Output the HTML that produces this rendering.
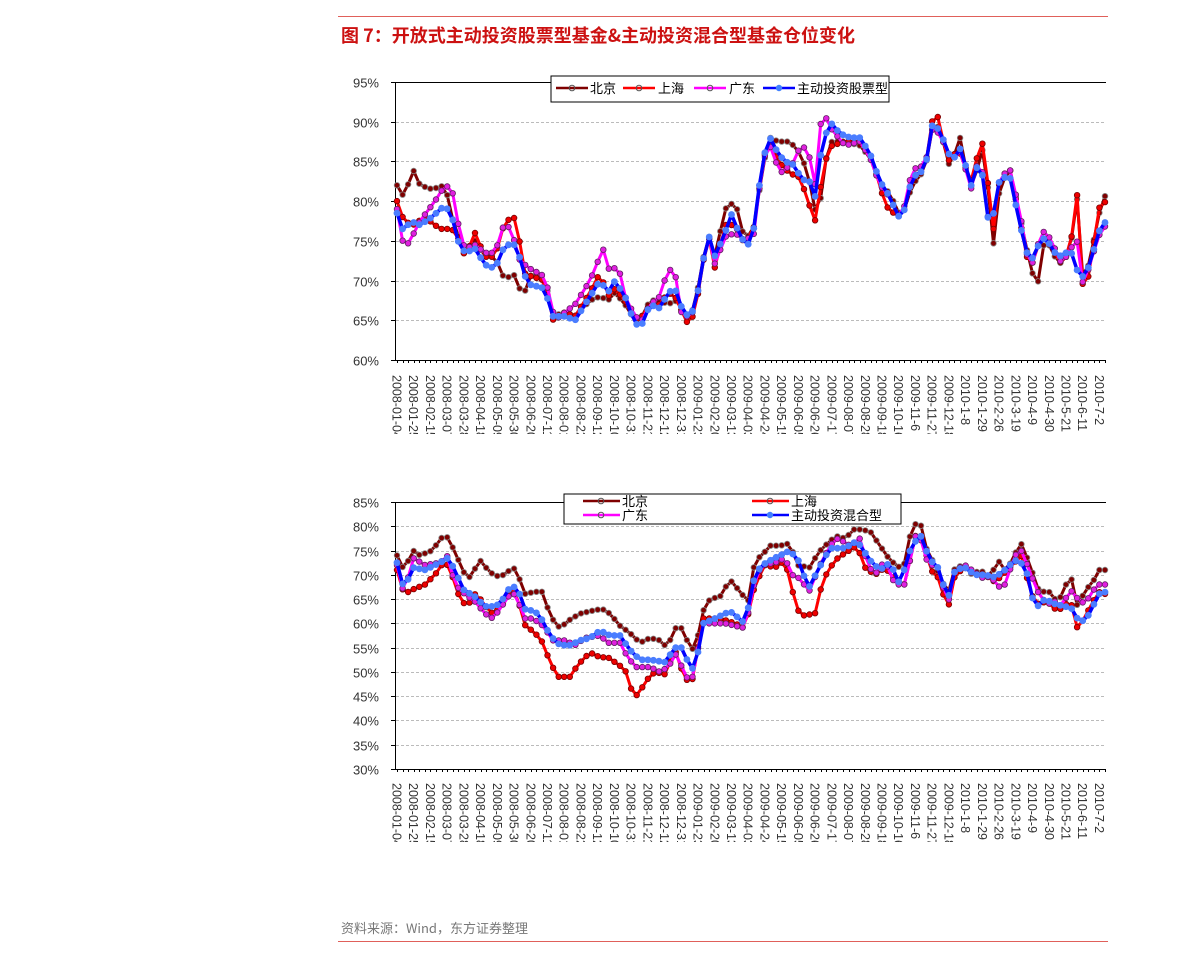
<!DOCTYPE html>
<html><head><meta charset="utf-8">
<style>
body{margin:0;background:#fff;width:1191px;height:956px;overflow:hidden;font-family:"Liberation Sans","Noto Sans CJK SC",sans-serif;}
svg{position:absolute;left:0;top:0}
</style></head><body>
<svg id="s" width="1191" height="956" xmlns="http://www.w3.org/2000/svg" font-family="Liberation Sans, Noto Sans CJK SC, sans-serif">
<line x1="338" y1="16.5" x2="1108" y2="16.5" stroke="#e0605a" stroke-width="1"/>
<text x="341" y="42" font-size="18" font-weight="bold" fill="#cc1111" font-family="Noto Sans CJK SC, sans-serif">图 7：开放式主动投资股票型基金&amp;主动投资混合型基金仓位变化</text>
<text x="341" y="933" font-size="13" fill="#777" font-family="Noto Sans CJK SC, sans-serif">资料来源：Wind，东方证券整理</text>
<line x1="338" y1="941.5" x2="1108" y2="941.5" stroke="#e0605a" stroke-width="1"/>
<g id="c1"></g><g id="c2"></g>
<g font-size="13" fill="#000" font-family="Noto Sans CJK SC, sans-serif">
<rect x="551" y="76" width="338" height="26" fill="#fff" stroke="#000" stroke-width="1"/>
<line x1="556" y1="88" x2="588" y2="88" stroke="#7f0000" stroke-width="2.5"/><circle cx="572" cy="88" r="2.8" fill="none" stroke="#555"/>
<text x="590" y="93">北京</text>
<line x1="623" y1="88" x2="655" y2="88" stroke="#ff0000" stroke-width="2.5"/><circle cx="639" cy="88" r="2.8" fill="none" stroke="#555"/>
<text x="658" y="93">上海</text>
<line x1="694" y1="88" x2="726" y2="88" stroke="#ff00ff" stroke-width="2.5"/><circle cx="710" cy="88" r="2.8" fill="none" stroke="#555"/>
<text x="729" y="93">广东</text>
<line x1="763" y1="88" x2="795" y2="88" stroke="#0000ff" stroke-width="2.5"/><circle cx="779" cy="88" r="3.2" fill="#4080ff"/>
<text x="797" y="93">主动投资股票型</text>
</g>
<g font-size="13" fill="#000" font-family="Noto Sans CJK SC, sans-serif">
<rect x="564" y="494" width="337" height="30" fill="#fff" stroke="#000" stroke-width="1"/>
<line x1="583" y1="501" x2="620" y2="501" stroke="#7f0000" stroke-width="2.5"/><circle cx="601" cy="501" r="2.8" fill="none" stroke="#555"/>
<text x="622" y="506">北京</text>
<line x1="583" y1="515" x2="620" y2="515" stroke="#ff00ff" stroke-width="2.5"/><circle cx="601" cy="515" r="2.8" fill="none" stroke="#555"/>
<text x="622" y="520">广东</text>
<line x1="752" y1="501" x2="789" y2="501" stroke="#ff0000" stroke-width="2.5"/><circle cx="770" cy="501" r="2.8" fill="none" stroke="#555"/>
<text x="791" y="506">上海</text>
<line x1="752" y1="515" x2="789" y2="515" stroke="#0000ff" stroke-width="2.5"/><circle cx="770" cy="515" r="3.2" fill="#4080ff"/>
<text x="791" y="520">主动投资混合型</text>
</g>
</svg>
<script>
var NS="http://www.w3.org/2000/svg";
function el(p,t,a,txt){var e=document.createElementNS(NS,t);for(var k in a)e.setAttribute(k,a[k]);if(txt!=null)e.textContent=txt;p.appendChild(e);return e;}
var dates=["2008-01-04","2008-01-25","2008-02-15","2008-03-07","2008-03-28","2008-04-18","2008-05-09","2008-05-30","2008-06-20","2008-07-11","2008-08-01","2008-08-22","2008-09-12","2008-10-10","2008-10-31","2008-11-21","2008-12-12","2008-12-31","2009-01-23","2009-02-20","2009-03-13","2009-04-03","2009-04-24","2009-05-15","2009-06-05","2009-06-26","2009-07-17","2009-08-07","2009-08-28","2009-09-18","2009-10-16","2009-11-6","2009-11-27","2009-12-18","2010-1-8","2010-1-29","2010-2-26","2010-3-19","2010-4-9","2010-4-30","2010-5-21","2010-6-11","2010-7-2"];
var N=128,X0=397,X1=1105,st=(X1-X0)/(N-1);
function interp(kf,x){for(var i=0;i<kf.length-2;i+=2){if(x<=kf[i+2]){var t=(x-kf[i])/(kf[i+2]-kf[i]);if(x<kf[i])t=0;return kf[i+1]+t*(kf[i+3]-kf[i+1]);}}return kf[kf.length-1];}
function chart(g,top,bot,vmin,vmax,step,legL,legR,labY,series){
 var sc=(bot-top)/(vmax-vmin);function Y(v){return bot-(v-vmin)*sc;}
 for(var v=vmin;v<=vmax+0.01;v+=step){var y=Math.round(Y(v))+0.5;
  if(v>vmin&&v<vmax-0.01)el(g,"line",{x1:396,y1:y,x2:1106,y2:y,stroke:"#bbb","stroke-dasharray":"3,2","stroke-width":1});
  el(g,"line",{x1:391,y1:y,x2:395,y2:y,stroke:"#000"});
  el(g,"text",{x:379,y:y+5,"font-size":13,fill:"#333","text-anchor":"end"},v+"%");}
 el(g,"line",{x1:395.5,y1:top,x2:395.5,y2:bot,stroke:"#000"});
 el(g,"line",{x1:395,y1:bot+0.5,x2:1106,y2:bot+0.5,stroke:"#000"});
 el(g,"line",{x1:395,y1:top+0.5,x2:legL,y2:top+0.5,stroke:"#000"});
 el(g,"line",{x1:legR,y1:top+0.5,x2:1106,y2:top+0.5,stroke:"#000"});
 for(var i=0;i<N;i++){var x=Math.round(X0+i*st)+0.5;el(g,"line",{x1:x,y1:bot,x2:x,y2:bot+3,stroke:"#000"});}
 var cp=el(document.getElementById("s"),"clipPath",{id:"cl"+top});el(cp,"rect",{x:380,y:labY-4,width:740,height:63});
 var lg=el(g,"g",{"clip-path":"url(#cl"+top+")"});
 for(var j=0;j<dates.length;j++){var x=X0+j*3*st;
  el(lg,"text",{x:0,y:0,"font-size":12.5,fill:"#333",transform:"translate("+(x-4.5)+","+labY+") rotate(90)"},dates[j]);}
 series.forEach(function(s){var pts=[];for(var i=0;i<N;i++){var x=X0+i*st;pts.push([x,Y(interp(s.k,x))]);}
  el(g,"polyline",{points:pts.map(function(p){return p[0].toFixed(1)+","+p[1].toFixed(1)}).join(" "),fill:"none",stroke:s.c,"stroke-width":s.w,"stroke-linejoin":"round"});
  pts.forEach(function(p){el(g,"circle",{cx:p[0].toFixed(1),cy:p[1].toFixed(1),r:s.r,fill:s.f,stroke:s.o,"stroke-width":s.o=="none"?0:0.8});});});
}
var d1=[397,82,404,80.5,413,84,420,82,432,81.5,445,82,452,78,460,75,465,73,475,75,485,73,495,73,505,70,513,71,523,68,532,71,545,70.5,552,65.5,565,66,575,65.5,590,67.5,600,68,608,67.5,615,68.5,625,67,635,65,642,65.5,650,67.5,660,67.5,668,67,675,67.5,680,67,688,65,695,67,708,76,715,73,725,79,735,80,745,75,755,77,762,84,770,88,778,87.5,790,87.5,800,86,808,83.5,813,80,818,77.5,825,85,832,87.5,845,87.5,860,87,870,85.5,880,82,890,81,898,78.5,905,79,912,82,925,84,932,89,940,89.5,948,84.5,955,86,960,88,970,81.5,980,85,985,88,992,73,1000,82,1010,84,1020,78,1030,72,1037,69,1045,75.5,1055,73,1062,72,1070,74,1078,81,1083,70,1090,72.5,1098,78,1106,81];
var r1=[397,80,404,77.5,413,77,425,78,440,76.5,452,76.5,460,75,465,73,475,76,485,73,495,73,505,77.5,517,78,523,71,532,70.5,545,70,552,65,565,66,575,65.5,590,68.5,600,71,608,68,615,69,625,67.5,635,65,642,65.5,650,67,660,67,668,68.5,675,68,688,64.5,695,66,708,76,715,71.5,725,77,735,77,745,74.5,755,77,762,85,770,87.5,778,85,790,83.5,800,83,808,80,815,77.5,825,85,832,87,845,87.5,860,87.5,870,86,880,82,885,79.5,898,78,905,79,912,83,925,84,932,90,937,91,948,85,955,86,962,86,970,82,980,87,985,87.5,992,75,1000,83,1010,84,1020,77.5,1030,71,1036,74,1045,75.5,1055,73.5,1062,72,1070,74,1077,81,1083,69,1090,71,1098,79,1106,80];
var m1=[397,79,404,74,410,75,420,77.5,435,80,445,82,452,81.5,460,76,465,74,475,74.5,485,73.5,495,73.5,505,77.5,512,76,520,72.5,530,71.5,545,70.5,555,65,565,66,575,67,590,70,603,74,610,71,618,72,625,68,635,65.5,642,65,650,67,660,68,668,71.5,675,71,682,65.5,690,65.5,695,66.5,708,76,715,72,725,75.5,735,76,745,75,755,76,762,85,770,87,780,83.5,795,85,800,87,808,86.5,815,82,822,91.5,832,89,845,87,860,87.5,870,85.5,880,82,890,80.5,898,78,905,79.5,912,84,925,84.5,932,89,940,88.5,948,86,955,85.5,962,86.5,970,81,980,86,990,76,1000,83,1010,84,1020,78.5,1030,71,1036,74,1045,76.5,1055,74,1062,72,1070,74,1078,75,1083,69.5,1090,72,1098,75.5,1106,77];
var b1=[397,78.5,404,76,410,77.5,420,77,432,78,445,79.5,452,78,458,75,465,73.5,475,74,485,72,495,71.5,505,74.5,517,74.5,523,71,530,69.5,545,69,552,65.5,565,65.5,575,65,590,68,600,70,608,68.5,615,70,625,68,635,64.5,642,64.5,650,67,660,66.5,668,68.5,675,69,680,67,688,65.5,695,66.5,708,76,715,73,725,76,732,78.5,740,75.5,748,74.5,755,77,762,85,770,88,778,86,785,85,795,84.5,802,82.5,808,83,815,80.5,822,87,830,90,840,88.5,850,88,860,88,870,86,880,82.5,890,80.5,898,78,905,79,912,83,925,84,932,89.5,940,89,948,86,955,85.5,962,87,970,81.5,980,85.5,990,76,1000,83,1010,83,1020,77,1030,72,1036,74,1045,75.5,1055,73.5,1062,73,1070,74,1078,71,1083,70.5,1090,72,1098,76,1106,77.5];
var d2=[397,74,404,71,413,75,420,74,432,75,445,78.5,452,76,465,70,470,69.5,480,73,490,70.5,500,69.5,510,71,517,71.5,523,66,535,66.5,543,66.5,550,61.5,560,59,568,60.5,580,62,590,62.5,602,63,610,62,620,59.5,630,58,640,56,650,57,660,56.5,667,55,675,59,682,59,690,55,695,54.5,703,62.5,710,65,720,65.5,730,69,740,66.5,748,64.5,755,73,762,74,770,76,780,76,790,76.5,797,72,810,71.5,818,74.5,825,76,836,78,845,77.5,855,79.5,870,79,880,76,890,73,903,71,912,80,920,81,927,75,935,72,948,66,955,71.5,965,72,972,70,980,71,990,69.5,998,73,1005,71,1013,73,1020,77,1028,73,1035,69,1040,66,1047,67,1055,65,1062,65.5,1070,70.5,1078,63,1085,67,1092,68,1098,71,1106,71];
var r2=[397,71,404,66,413,67,425,68,435,70,445,73,452,70,460,65,467,63.5,475,66,483,64.5,490,62,500,63,510,67,517,66.5,523,60,535,58,543,56,550,52,558,49,570,49,578,51.5,590,54,600,53,608,53,615,52,625,50.5,632,46,638,45,645,48,655,50,665,49.5,675,54.5,685,48.5,692,48,703,61,712,61,720,61,735,60,745,59,755,68,765,72,775,71.5,785,73,792,67,800,61.5,815,62,823,69,835,73,845,74.5,857,76,865,71.5,875,70,885,71.5,895,69,905,68,915,78,922,78,930,71,937,70,948,63,955,70,965,71.5,975,70,985,70,995,68.5,1005,70.5,1012,72,1022,74,1030,66.5,1037,64,1047,64.5,1055,63,1062,63,1070,65,1078,58.5,1085,61.5,1092,64,1098,66.5,1106,66];
var m2=[397,72,404,66,413,73.5,425,72,440,72.5,448,74,455,68,465,66,475,64.5,485,62,493,61,500,63,510,66,517,66,523,61,533,61,543,59.5,553,56.5,565,56.5,575,55.5,585,57,600,57.5,608,56,620,56,625,54,635,51,650,51,660,50,668,51,677,54,685,49,692,48.5,703,60,710,60,725,60,735,59.5,745,59,755,69,762,72,775,72.5,785,73.5,792,70,802,69,808,66,820,72,830,76,838,77.5,850,76,860,77.5,868,72,875,70,885,73,895,68,905,68,915,78,922,77,928,72,937,72,948,64,955,71,965,72,975,70.5,985,69,990,70,998,67.5,1005,68,1015,74,1022,75,1030,70.5,1040,65.5,1048,64,1055,64.5,1062,63.5,1070,67,1078,65,1085,64,1092,66.5,1098,68,1106,68];
var b2=[397,72.5,404,67,413,71.5,425,71,440,72.5,448,73.5,455,71,463,67,475,65.5,485,63.5,493,63.5,500,64,510,67.5,518,67.5,523,63,535,62.5,543,60.5,550,57.5,560,55.5,570,55.5,580,56.5,590,57,600,58.5,610,57.5,620,57.5,630,54.5,640,52.5,650,52.5,665,52,675,55,682,55,690,51,695,50.5,703,60,715,61,730,62.5,745,60,755,70,762,72,775,73.5,790,75,800,72.5,808,67,818,71,830,75.5,845,75.5,857,77,870,73,880,71,890,72.5,900,68,910,75,920,78.5,930,73,937,72,948,65,955,71,965,71.5,975,70,985,70,995,69.5,1005,71,1015,73,1025,72,1035,63,1045,65,1055,64,1065,63.5,1072,63,1080,60,1090,62,1098,66,1106,66.5];
function S(d,r,m,b){return [{k:d,c:"#7f0000",w:3,r:2.8,f:"#7f0000",o:"#888"},{k:r,c:"#ff0000",w:3,r:2.8,f:"#ee0000",o:"#700"},{k:m,c:"#ff00ff",w:3,r:2.8,f:"#e020e0",o:"#602060"},{k:b,c:"#0000ff",w:3.5,r:3.4,f:"#4a7dff",o:"none"}];}
chart(document.getElementById("c1"),82,360,60,95,5,551,889,375,S(d1,r1,m1,b1));
chart(document.getElementById("c2"),502,769,30,85,5,564,901,783,S(d2,r2,m2,b2));
</script>
</body></html>
